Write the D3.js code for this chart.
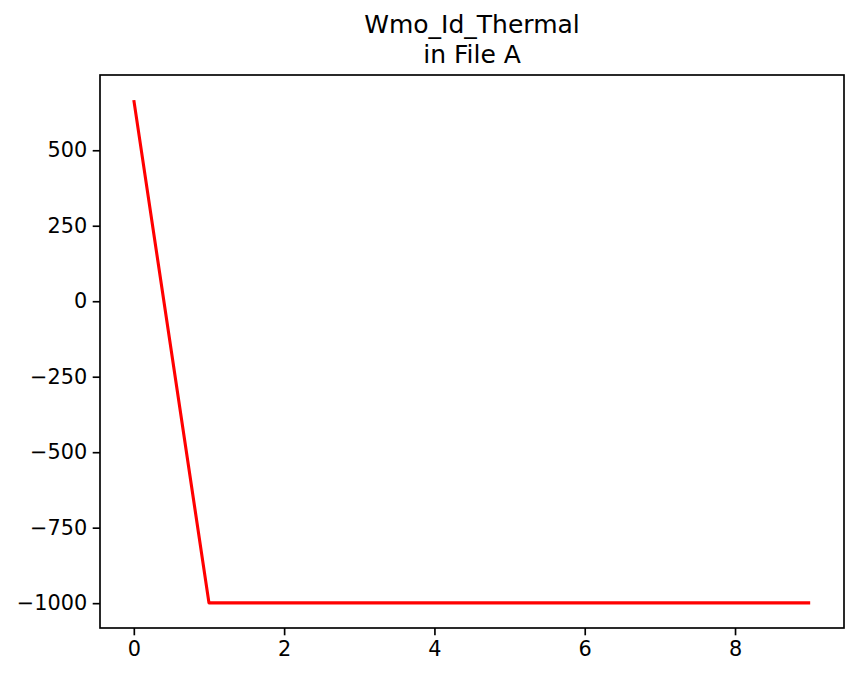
<!DOCTYPE html>
<html>
<head>
<meta charset="utf-8">
<script src="https://cdn.jsdelivr.net/npm/d3@7"></script>
<style>
  body { margin: 0; background: #fff; }
  svg text { font-family: "DejaVu Sans", sans-serif; fill: #000; }
</style>
</head>
<body>
<div id="chart"></div>
<script>
// Chart data
const xValues = [0, 1, 2, 3, 4, 5, 6, 7, 8, 9];
const yValues = [666, -999, -999, -999, -999, -999, -999, -999, -999, -999];
const xTicks = [0, 2, 4, 6, 8];
const yTicks = [500, 250, 0, -250, -500, -750, -1000];
const titleLines = ["Wmo_Id_Thermal", "in File A"];

const width = 859, height = 679;
const margin = {left: 100, right: 15, top: 75, bottom: 51};

const svg = d3.select("#chart").append("svg")
  .attr("width", width)
  .attr("height", height);

// matplotlib style 5% margins around the data
const xExt = d3.extent(xValues), yExt = d3.extent(yValues);
const xPad = (xExt[1] - xExt[0]) * 0.05, yPad = (yExt[1] - yExt[0]) * 0.05;

const x = d3.scaleLinear()
  .domain([xExt[0] - xPad, xExt[1] + xPad])
  .range([margin.left, width - margin.right]);

const y = d3.scaleLinear()
  .domain([yExt[0] - yPad, yExt[1] + yPad])
  .range([height - margin.bottom, margin.top]);

const fmt = d => d < 0 ? "\u2212" + Math.abs(d) : String(d);

// Axes
const xAxis = svg.append("g")
  .attr("transform", `translate(0,${height - margin.bottom})`)
  .call(d3.axisBottom(x).tickValues(xTicks).tickFormat(fmt).tickSize(7.3).tickPadding(5.5));

const yAxis = svg.append("g")
  .attr("transform", `translate(${margin.left},0)`)
  .call(d3.axisLeft(y).tickValues(yTicks).tickFormat(fmt).tickSize(7.3).tickPadding(5.5));

[xAxis, yAxis].forEach(g => {
  g.select(".domain").remove();
  g.selectAll(".tick line").attr("stroke", "#000").attr("stroke-width", 1.67);
  g.selectAll(".tick text").style("font-size", "20.8px").attr("fill", "#000");
});

// Data line
const line = d3.line()
  .x((d, i) => x(xValues[i]))
  .y(d => y(d));

svg.append("path")
  .datum(yValues)
  .attr("fill", "none")
  .attr("stroke", "#ff0000")
  .attr("stroke-width", 3.1)
  .attr("stroke-linejoin", "round")
  .attr("d", line);

// Frame
svg.append("rect")
  .attr("x", margin.left)
  .attr("y", margin.top)
  .attr("width", width - margin.left - margin.right)
  .attr("height", height - margin.top - margin.bottom)
  .attr("fill", "none")
  .attr("stroke", "#000")
  .attr("stroke-width", 1.67);

// Title
svg.append("text")
  .attr("text-anchor", "middle")
  .style("font-size", "25px")
  .selectAll("tspan")
  .data(titleLines)
  .enter().append("tspan")
  .attr("x", (margin.left + width - margin.right) / 2)
  .attr("y", (d, i) => 33 + i * 30)
  .text(d => d);
</script>
</body>
</html>
